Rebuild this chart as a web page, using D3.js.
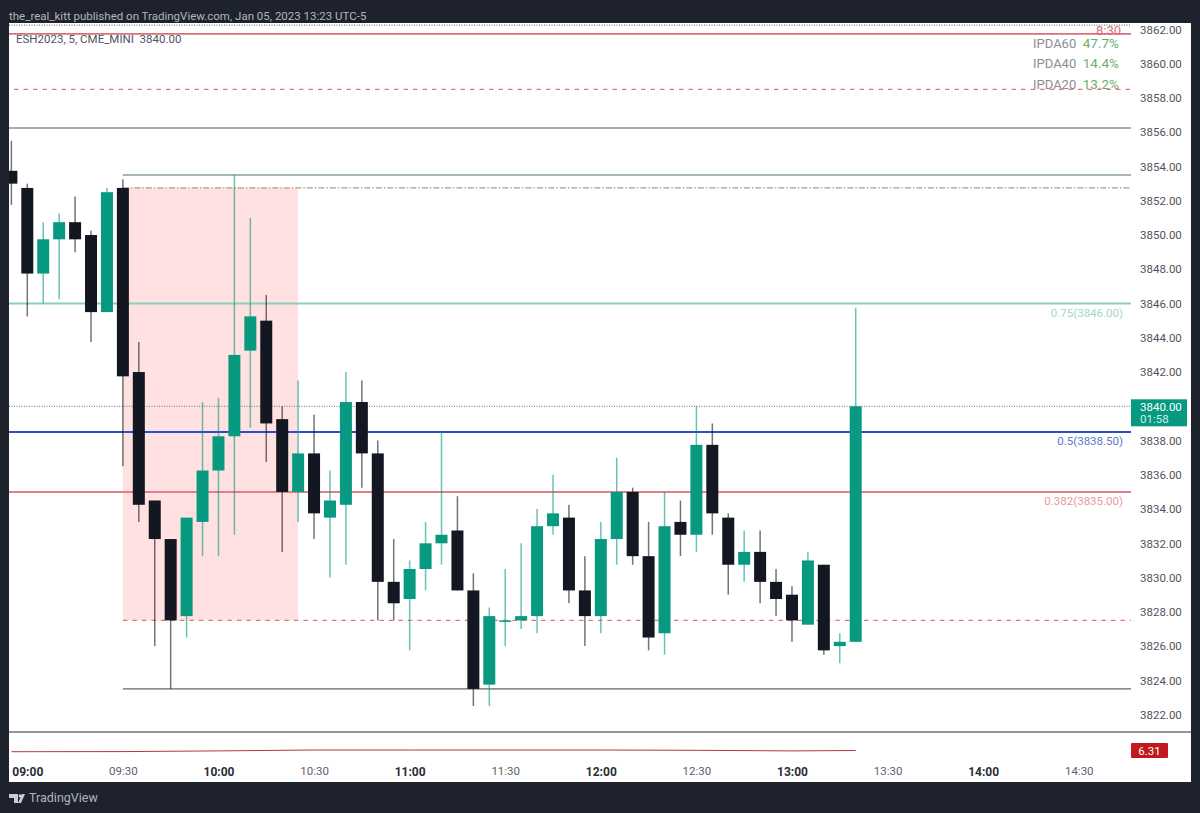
<!DOCTYPE html>
<html>
<head>
<meta charset="utf-8">
<script src="https://cdn.jsdelivr.net/npm/d3@7"></script>
<style>
  html, body { margin: 0; padding: 0; background: #1e222d; }
  svg { display: block; }
  text { font-family: Roboto, "Noto Sans", sans-serif; }
</style>
</head>
<body>
<div id="chart"></div>
<script>
// 5 minute candles, the first one opens at 08:55
const opens = [3853.75,3852.75,3847.75,3849.75,3850.75,3850,3845.5,3852.75,3842,3834.5,3832.25,3827.75,3833.25,3836.25,3838.25,3843.25,3845,3839.25,3835,3837.25,3833.5,3834.25,3840.25,3837.25,3829.75,3828.75,3830.5,3832,3832.75,3829.25,3823.75,3827.5,3827.5,3827.75,3833,3833.5,3829.25,3827.75,3832.25,3835,3831.25,3826.75,3833.25,3832.5,3837.75,3833.5,3830.75,3831.5,3829.75,3829,3827.25,3830.75,3826,3826.25];
const highs = [3855.5,3853,3850.75,3851.25,3852.25,3850.25,3852.75,3853.25,3843.75,3834.5,3832.25,3833.5,3840.25,3840.5,3853.5,3851,3846.5,3840,3841.5,3839.5,3836.25,3842,3841.5,3838,3832.25,3831,3833.25,3838.5,3834.75,3830.25,3828.25,3830.5,3832,3834,3836,3834.25,3831.25,3833.25,3837,3835.25,3833.25,3835,3834.5,3840,3839,3833.75,3832.75,3832.75,3830.5,3829.5,3831.5,3830.75,3826.75,3845.75];
const lows = [3851.75,3845.25,3846,3846.25,3849,3843.75,3845.5,3836.5,3833.25,3826,3823.5,3826.5,3831.25,3831.25,3832.5,3838.75,3836.75,3831.5,3833.25,3832.25,3830,3830.75,3835.25,3827.5,3827.5,3825.75,3829.25,3830.75,3829.25,3822.5,3822.5,3826,3827,3826.75,3832.5,3828.5,3826,3826.75,3830.75,3830.75,3825.75,3825.5,3831.25,3831.5,3832.5,3829,3829.75,3828.5,3827.75,3826.25,3827.25,3825.5,3825,3826.25];
const closes = [3853,3847.75,3849.75,3850.75,3849.75,3845.5,3852.5,3841.75,3834.25,3832.25,3827.5,3833.5,3836.25,3838.25,3843,3845.25,3839,3835,3837.25,3833.75,3834.5,3840.25,3837.25,3829.75,3828.5,3830.5,3832,3832.5,3829.25,3823.5,3827.75,3827.5,3827.75,3833,3833.75,3829.25,3827.75,3832.25,3835,3831.25,3826.5,3833,3832.5,3837.75,3833.75,3830.75,3831.5,3829.75,3828.75,3827.5,3831,3825.75,3826.25,3840];

const priceTicks = [3862,3860,3858,3856,3854,3852,3850,3848,3846,3844,3842,3840,3838,3836,3834,3832,3830,3828,3826,3824,3822];
const timeTicks = ["09:00","09:30","10:00","10:30","11:00","11:30","12:00","12:30","13:00","13:30","14:00","14:30"];

// lower pane line, sampled by hand
const oscTimes = ["08:55","09:00","09:30","10:00","10:30","11:00","12:00","12:30","13:00","13:20"];
const oscValues = [6.19,6.19,6.2,6.27,6.36,6.36,6.36,6.33,6.27,6.31];

const ipdaNames = ["IPDA60","IPDA40","IPDA20"];
const ipdaValues = ["47.7%","14.4%","13.2%"];

const lastPrice = 3840;
const lastOsc = 6.31;
const levelDotTop = 3862.25;
const levelOpen = 3861.75;
const levelDashTop = 3858.5;
const levelHigh = 3856.25;
const levelSwingHigh = 3853.5;
const levelRangeTop = 3852.75;
const levelRangeBottom = 3827.5;
const levelSwingLow = 3823.5;
const fibPrices = [3846, 3838.5, 3835];
const fibNames = ["0.75(3846.00)", "0.5(3838.50)", "0.382(3835.00)"];
const fibColors = ["#8dcdbf", "#2a50c8", "#e0808a"];
const fibTextColors = ["#a3d6ca", "#5a79c9", "#e69aa2"];

const width = 1200, height = 813;
const frame = { left: 9, top: 23, right: 1191, bottom: 782 };
const plotRight = 1131;
const paneBottom = 732;
const fontFamily = "Roboto, 'Noto Sans', sans-serif";

const toTime = s => new Date(`2023-01-05T${s}:00`);

const svg = d3.select("#chart").append("svg").attr("width", width).attr("height", height);

svg.append("rect").attr("width", width).attr("height", height).attr("fill", "#1e222d");
svg.append("rect")
  .attr("x", frame.left).attr("y", frame.top)
  .attr("width", frame.right - frame.left).attr("height", frame.bottom - frame.top)
  .attr("fill", "#ffffff");

const xScale = d3.scaleTime()
  .domain([toTime("09:00"), toTime("13:20")])
  .range([27.3, 855.7]);
const yScale = d3.scaleLinear().domain([3822, 3862]).range([714.6, 29.5]);
const oscScale = d3.scaleLinear().domain([6, 7]).range([753.6, 743.6]);

const candles = opens.map((o, i) => ({
  time: d3.timeMinute.offset(toTime("08:55"), i * 5),
  open: o, high: highs[i], low: lows[i], close: closes[i]
}));

svg.append("defs").append("clipPath").attr("id", "plot-clip")
  .append("rect")
  .attr("x", frame.left).attr("y", frame.top)
  .attr("width", plotRight - frame.left).attr("height", paneBottom - frame.top);

const plot = svg.append("g").attr("clip-path", "url(#plot-clip)");

// pink range box
plot.append("rect")
  .attr("x", xScale(toTime("09:30")))
  .attr("y", yScale(levelRangeTop))
  .attr("width", xScale(toTime("10:25")) - xScale(toTime("09:30")))
  .attr("height", yScale(levelRangeBottom) - yScale(levelRangeTop))
  .attr("fill", "#ffe1e1");

const level = (price, x0, color, w, dash) => plot.append("line")
  .attr("x1", x0).attr("x2", plotRight)
  .attr("y1", yScale(price)).attr("y2", yScale(price))
  .attr("stroke", color).attr("stroke-width", w)
  .attr("stroke-dasharray", dash || null);

const start930 = xScale(toTime("09:30"));

level(levelDotTop, frame.left, "#6f827d", 1.2, "1 1.5");
level(levelOpen, frame.left, "#d9707c", 1.7);
level(levelDashTop, 14, "#e5747f", 1.3, "4.5 5");
level(levelHigh, frame.left, "#8f9196", 1.5);
level(levelSwingHigh, start930, "#87a09a", 1.5);
level(levelRangeTop, start930, "#b09a88", 1.2, "6 2 1.5 2");
level(levelRangeBottom, start930, "#e5747f", 1.3, "4.5 5");
level(levelSwingLow, start930, "#8f9196", 1.6);
level(lastPrice, frame.left, "#6f9a90", 1.2, "1 1.5");
fibPrices.forEach((p, i) => level(p, frame.left, fibColors[i], 1.9));

// fib labels
svg.append("g").selectAll("text")
  .data(fibNames)
  .join("text")
  .attr("x", 1123)
  .attr("y", (d, i) => yScale(fibPrices[i]) + 13.5)
  .attr("text-anchor", "end")
  .attr("font-size", 11.5)
  .attr("fill", (d, i) => fibTextColors[i])
  .text(d => d);

const upColor = "#089981", downColor = "#131722";
const barColor = d => d.close >= d.open ? upColor : downColor;

// wicks then bodies
plot.selectAll(".wick")
  .data(candles)
  .join("line")
  .attr("class", "wick")
  .attr("x1", d => xScale(d.time)).attr("x2", d => xScale(d.time))
  .attr("y1", d => yScale(d.high)).attr("y2", d => yScale(d.low))
  .attr("stroke", barColor)
  .attr("stroke-width", 1.5)
  .attr("stroke-opacity", 0.6);

plot.selectAll(".body")
  .data(candles)
  .join("rect")
  .attr("class", "body")
  .attr("x", d => xScale(d.time) - 6)
  .attr("width", 12)
  .attr("y", d => yScale(Math.max(d.open, d.close)))
  .attr("height", d => Math.max(1.5, Math.abs(yScale(d.open) - yScale(d.close))))
  .attr("fill", barColor);

// price axis
const yAxis = svg.append("g")
  .attr("transform", `translate(${plotRight},0)`)
  .call(d3.axisRight(yScale).tickValues(priceTicks).tickSize(0).tickPadding(9).tickFormat(d3.format(".2f")));
yAxis.select(".domain").remove();
yAxis.selectAll("text")
  .style("font-family", fontFamily)
  .attr("font-size", 11.5)
  .attr("fill", "#50535e");

// pane separator
svg.append("line")
  .attr("x1", frame.left).attr("x2", frame.right)
  .attr("y1", paneBottom).attr("y2", paneBottom)
  .attr("stroke", "#6f7278").attr("stroke-width", 1.3);

// lower pane
const oscLine = d3.line()
  .x(d => xScale(toTime(d.t)))
  .y(d => oscScale(d.v));
svg.append("path")
  .datum(oscTimes.map((t, i) => ({ t, v: oscValues[i] })))
  .attr("d", oscLine)
  .attr("fill", "none")
  .attr("stroke", "#b5383e")
  .attr("stroke-width", 1);

// time axis
const xAxis = svg.append("g")
  .attr("transform", "translate(0,764)")
  .call(d3.axisBottom(xScale).tickValues(timeTicks.map(toTime)).tickSize(0).tickPadding(3).tickFormat(d3.timeFormat("%H:%M")));
xAxis.select(".domain").remove();
xAxis.selectAll("text")
  .style("font-family", fontFamily)
  .attr("font-size", d => d.getMinutes() === 0 ? 12 : 11.5)
  .attr("fill", d => d.getMinutes() === 0 ? "#2a2e39" : "#5d606b")
  .attr("font-weight", d => d.getMinutes() === 0 ? 700 : 400);

// last price tag
const tagY = yScale(lastPrice);
svg.append("rect")
  .attr("x", plotRight).attr("y", tagY - 7)
  .attr("width", 56).attr("height", 27).attr("fill", upColor);
svg.append("text").attr("x", plotRight + 9).attr("y", tagY + 4.5)
  .attr("font-size", 11.5).attr("fill", "#ffffff").text(d3.format(".2f")(lastPrice));
svg.append("text").attr("x", plotRight + 9).attr("y", tagY + 16.5)
  .attr("font-size", 11.5).attr("fill", "#cfeee6").text("01:58");

// oscillator tag
const oscY = oscScale(lastOsc);
svg.append("rect")
  .attr("x", plotRight).attr("y", oscY - 7.5)
  .attr("width", 37).attr("height", 15).attr("rx", 1).attr("fill", "#c2181f");
svg.append("text").attr("x", plotRight + 18.5).attr("y", oscY + 4)
  .attr("text-anchor", "middle")
  .attr("font-size", 11.5).attr("fill", "#ffffff").text(d3.format(".2f")(lastOsc));

// IPDA table
const ipdaRows = svg.append("g").selectAll("g")
  .data(ipdaNames)
  .join("g")
  .attr("transform", (d, i) => `translate(0,${48 + i * 20.3})`);
ipdaRows.append("text")
  .attr("x", 1033).attr("font-size", 13).attr("fill", "#8b8d93").text(d => d);
ipdaRows.append("text")
  .attr("x", 1119).attr("text-anchor", "end").attr("font-size", 13.5).attr("fill", "#6cae6f")
  .text((d, i) => ipdaValues[i]);

svg.append("text")
  .attr("x", 1121).attr("y", 35).attr("text-anchor", "end")
  .attr("font-size", 13).attr("fill", "#de6f7a").text("8:30");

// legend and header
svg.append("text")
  .attr("x", 16).attr("y", 43)
  .attr("font-size", 11.5).attr("fill", "#50535e")
  .attr("xml:space", "preserve")
  .text("ESH2023, 5, CME_MINI  3840.00");

svg.append("text")
  .attr("x", 9).attr("y", 20)
  .attr("font-size", 11.5).attr("fill", "#b2b5be")
  .text("the_real_kitt published on TradingView.com, Jan 05, 2023 13:23 UTC-5");

// logo
svg.append("path")
  .attr("d", "M9 794h9v9h-4v-5h-5z M22 794h3l-4 9h-3z")
  .attr("fill", "#c9ccd4");
svg.append("circle").attr("cx", 20.3).attr("cy", 796).attr("r", 1.7).attr("fill", "#c9ccd4");
svg.append("text")
  .attr("x", 29).attr("y", 801.5)
  .attr("font-size", 12.5).attr("fill", "#b2b5be")
  .text("TradingView");
</script>
</body>
</html>
